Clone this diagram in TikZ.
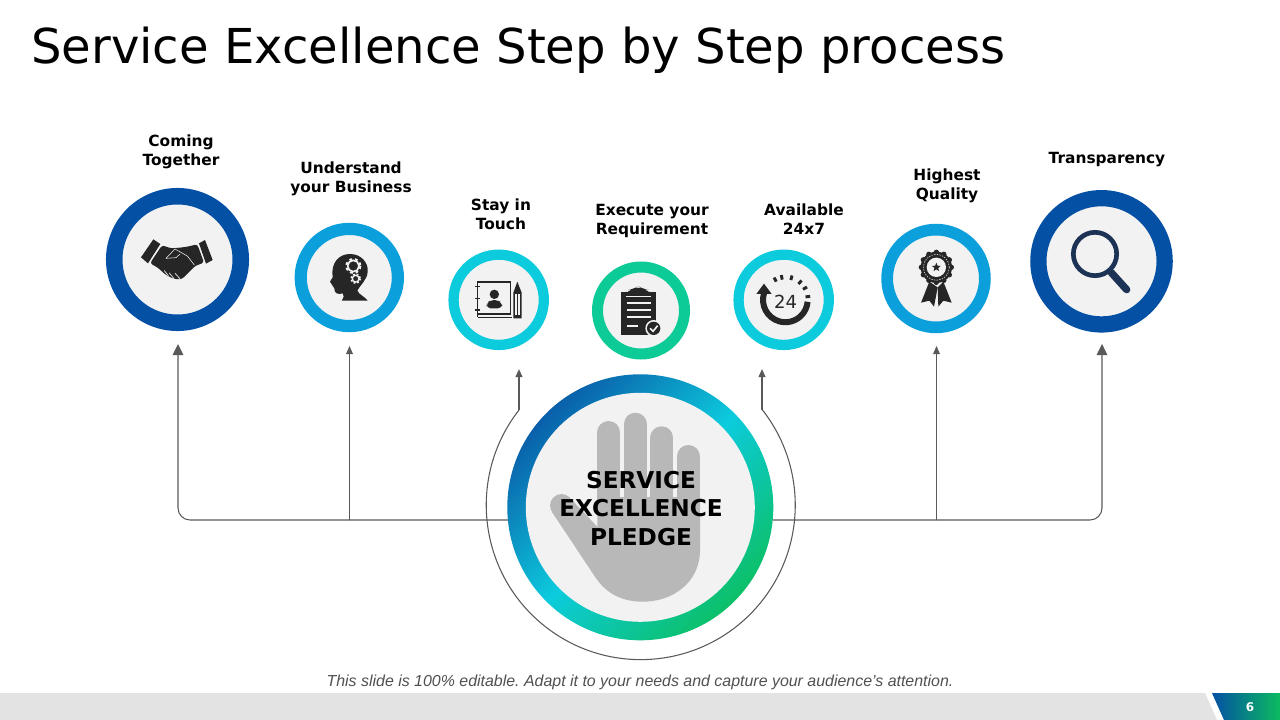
\documentclass[tikz,border=0pt]{standalone}
\usepackage{fontspec}
\setmainfont{DejaVu Sans}
\newfontfamily\footfont{Liberation Sans}
\usetikzlibrary{arrows.meta,calc}
\definecolor{navyring}{HTML}{0450A4}
\definecolor{skyring}{HTML}{0B9FDC}
\definecolor{cyanring}{HTML}{0CCBDD}
\definecolor{greenring}{HTML}{0CCB96}
\definecolor{hubblue}{HTML}{0A5FAA}
\definecolor{hubcyan}{HTML}{0CCBDD}
\definecolor{hubgreen}{HTML}{0CC068}
\definecolor{discgray}{HTML}{F2F2F2}
\definecolor{handgray}{HTML}{B8B8B8}
\definecolor{icondark}{HTML}{262626}
\definecolor{lensblue}{HTML}{1C3355}
\definecolor{linegray}{HTML}{595959}
\definecolor{bargray}{HTML}{E3E3E3}
\definecolor{footgreen}{HTML}{0CBB60}
\tikzset{
  ringnode/.style 2 args={circle,draw=#1,line width=#2,fill=discgray,inner sep=0},
  stepname/.style={font=\bfseries\fontsize{11.55}{14.25}\selectfont,align=center,inner sep=0},
  conn/.style={draw=linegray,line width=0.8pt},
  connthick/.style={draw=linegray,line width=1.3pt},
  bigtip/.style={-{Triangle[length=8.25pt,width=8pt]}},
  smalltip/.style={-{Triangle[length=6pt,width=5pt]}},
  finger/.style={handgray,line width=17.25pt,line cap=round},
  iconline/.style={discgray,line cap=round}
}
\begin{document}
\begin{tikzpicture}[x=0.75pt,y=-0.75pt]
  \useasboundingbox (0,0) rectangle (1280,720);

  \node[anchor=west,inner sep=0,font=\fontsize{36.07}{40}\selectfont] (title) at (31,50) {Service Excellence Step by Step process};

  % small rings
  \node[ringnode={navyring}{12.4pt},minimum size=94.9pt] (ring1) at (177.5,259.5) {};
  \node[ringnode={skyring}{9.15pt},minimum size=72.9pt] (ring2) at (349.3,277.5) {};
  \node[ringnode={cyanring}{7.7pt},minimum size=67.7pt] (ring3) at (498.7,299.8) {};
  \node[ringnode={greenring}{8.25pt},minimum size=65.25pt] (ring4) at (641,310.5) {};
  \node[ringnode={cyanring}{7.7pt},minimum size=67.7pt] (ring5) at (783.7,299.8) {};
  \node[ringnode={skyring}{8.8pt},minimum size=73.3pt] (ring6) at (936,278.5) {};
  \node[ringnode={navyring}{12.2pt},minimum size=94.7pt] (ring7) at (1101.5,261.3) {};

  \node[stepname,above of=ring1,node distance=81pt,xshift=2.6pt] (name1) {Coming\\Together};
  \node[stepname,above of=ring2,node distance=74.25pt,xshift=1.3pt] (name2) {Understand\\your Business};
  \node[stepname,above of=ring3,node distance=64pt,xshift=1.7pt] (name3) {Stay in\\Touch};
  \node[stepname,above of=ring4,node distance=67pt,xshift=8.25pt] (name4) {Execute your\\Requirement};
  \node[stepname,above of=ring5,node distance=60.5pt,xshift=15.2pt] (name5) {Available\\24x7};
  \node[stepname,above of=ring6,node distance=69.5pt,xshift=8.25pt] (name6) {Highest\\Quality};
  \node[stepname,above of=ring7,node distance=76pt,xshift=4.1pt] (name7) {Transparency};

  % centre
  \node[circle,inner sep=0,minimum size=199.5pt,top color=hubblue,bottom color=hubgreen,middle color=hubcyan,shading angle=45] (hub) at (640.3,507.3) {};
  \node[circle,inner sep=0,minimum size=171.75pt,fill=discgray] (hubdisc) at (hub) {};

  % connectors
  \coordinate (tip1) at (178,344);
  \coordinate (tip2) at (349.5,346);
  \coordinate (tip3) at (519,369);
  \coordinate (tip5) at (762,369);
  \coordinate (tip6) at (936.5,346);
  \coordinate (tip7) at (1102,344);
  \coordinate (arc3) at (519,410);
  \coordinate (arc5) at (762,410);
  \coordinate (hubleft) at (507.8,520);
  \coordinate (hubright) at (772.8,520);
  \coordinate (corner1) at (178,520);
  \coordinate (corner7) at (1102,520);
  \coordinate (joint2) at (349.5,520);
  \coordinate (joint6) at (936.5,520);

  \draw[conn,bigtip,rounded corners=9pt] (hubleft) -- (corner1) -- (tip1);
  \draw[conn,bigtip,rounded corners=9pt] (hubright) -- (corner7) -- (tip7);
  \draw[conn,smalltip] (joint2) -- (tip2);
  \draw[conn,smalltip] (joint6) -- (tip6);
  \draw[conn] (arc3) arc[start angle=218,end angle=-38,radius=154.5];
  \draw[connthick,smalltip] (arc3) -- (tip3);
  \draw[connthick,smalltip] (arc5) -- (tip5);

  % hand
  \draw[finger] (608.8,432.5) -- (608.8,510);
  \draw[finger] (635.2,424.2) -- (635.2,510);
  \draw[finger] (661.8,437.8) -- (661.8,510);
  \draw[finger] (688.3,456.5) -- (688.3,510);
  \fill[handgray] (561.5,505.5) circle[radius=11.5];
  \fill[handgray] (597.3,497) -- (700,497) -- (700,550) .. controls (700,583) and (672,601.7) .. (643,601.7) .. controls (620,601.7) and (605,592) .. (595,576.7) -- (551.9,511.9) -- (571,499) -- (597.3,526.7) -- cycle;
  \node[font=\bfseries\fontsize{17.4}{21.4}\selectfont,align=center,inner sep=0] (pledge) at (641,508.5) {SERVICE\\EXCELLENCE\\PLEDGE};

  % handshake
  \begin{scope}[shift={(100,180)},scale=1/3]
    \fill[icondark] (160,178) -- (181,192) -- (144,250) -- (123,232) -- cycle;
    \fill[icondark] (315,180) -- (338,240) -- (318,251) -- (297,190) -- cycle;
    \fill[icondark,rounded corners=2pt] (186,196) -- (214,205) -- (240,203) -- (262,200) -- (292,193) -- (312,248) -- (285,258) -- (245,298) -- (222,297) -- (198,285) -- (172,262) -- (150,250) -- cycle;
    \draw[iconline,line width=0.4pt] (198,235) -- (225,207) -- (262,228) -- (283,255);
    \draw[iconline,line width=0.4pt] (198,235) -- (228,233) -- (240,222);
    \draw[iconline,line width=0.5pt] (205,287) -- (193,272);
    \draw[iconline,line width=0.5pt] (222,296) -- (208,279);
    \draw[iconline,line width=0.5pt] (240,296) -- (225,280);
  \end{scope}

  % head with gears
  \begin{scope}[shift={(100,180)},scale=1/3]
    \fill[icondark] (725,362) .. controls (732,352) and (733,345) .. (728,340) .. controls (715,345) and (702,340) .. (703,325) -- (690,305) -- (698,292) .. controls (692,250) and (715,222) .. (750,222) .. controls (785,222) and (806,250) .. (803,275) .. controls (802,300) and (780,315) .. (772,332) .. controls (778,345) and (795,350) .. (803,362) -- cycle;
    \draw[discgray,line width=1.2pt] (760,258) circle[radius=17];
    \draw[discgray,line width=1.5pt,dash pattern=on 2.15pt off 2.15pt] (760,258) circle[radius=21];
    \draw[discgray,line width=1pt] (767,296) circle[radius=10];
    \draw[discgray,line width=1.2pt,dash pattern=on 1.4pt off 1.4pt] (767,296) circle[radius=14];
  \end{scope}

  % address book
  \begin{scope}[shift={(440,240)},scale=1/3]
    \draw[icondark,line width=1pt] (113,126) -- (211,126) -- (211,222) -- (113,222) -- cycle;
    \draw[icondark,line width=1pt] (113,232) -- (215,232);
    \draw[icondark,line width=1pt] (113,140) -- (113,232);
    \draw[icondark,line width=1pt] (106,140) -- (120,140) (106,175) -- (120,175) (106,210) -- (120,210);
    \fill[icondark] (163,163) circle[radius=14];
    \fill[icondark,rounded corners=3pt] (140,205) -- (140,188) -- (155,180) -- (171,180) -- (186,188) -- (186,205) -- cycle;
    \fill[icondark] (232,125) -- (245,158) -- (245,235) -- (220,235) -- (220,158) -- cycle;
    \fill[discgray] (225,162) rectangle (240,225);
    \fill[icondark] (230.5,162) rectangle (234.5,225);
  \end{scope}

  % clipboard
  \begin{scope}[shift={(440,240)},scale=1/3]
    \fill[icondark] (543,155) rectangle (648,285);
    \fill[icondark,rounded corners=4pt] (560,170) -- (560,150) -- (580,148) -- (595,138) -- (610,148) -- (630,150) -- (630,170) -- cycle;
    \draw[discgray,line width=0.5pt] (558,170) -- (632,170);
    \foreach \liney in {190,210,230}
      \draw[discgray,line width=1.5pt] (560,\liney) -- (632,\liney);
    \draw[discgray,line width=1.5pt] (560,258) -- (595,258);
    \fill[discgray] (641,265) circle[radius=25];
    \fill[icondark] (641,265) circle[radius=20];
    \draw[discgray,line width=1.2pt] (630,265) -- (639,274) -- (653,257);
  \end{scope}

  % clock arrow
  \begin{scope}[shift={(440,240)},scale=1/3]
    \draw[icondark,line width=4.5pt] (972,160) arc[start angle=197,end angle=5,radius=67];
    \fill[icondark] (949,162) -- (972,131) -- (995,162) -- cycle;
    \foreach \tickangle in {242,260,285,310,330,353}
      \draw[icondark,line width=2.2pt] ($(1037,178)+(\tickangle:60)$) -- ($(1037,178)+(\tickangle:74)$);
    \node[text=icondark,font=\fontsize{13.5}{15}\selectfont,inner sep=0] (hours) at (1037,186) {24};
  \end{scope}

  % rosette
  \begin{scope}[shift={(870,180)},scale=1/3]
    \fill[icondark] (178,305) -- (153,368) -- (178,362) -- (192,380) -- (203,322) -- cycle;
    \fill[icondark] (220,305) -- (245,368) -- (220,362) -- (205,380) -- (203,322) -- cycle;
    \fill[icondark] (199,262) circle[radius=47];
    \foreach \bumpangle in {0,30,...,330}
      \fill[icondark] ($(199,262)+(\bumpangle:45)$) circle[radius=8];
    \draw[discgray,line width=0.4pt,dash pattern=on 1pt off 1pt] (199,262) circle[radius=39];
    \fill[discgray] (199,262) circle[radius=29];
    \fill[icondark] (199,248) -- (202.5,257.1) -- (212.3,257.7) -- (204.7,263.9) -- (207.2,273.3) -- (199,268) -- (190.8,273.3) -- (193.3,263.9) -- (185.7,257.7) -- (195.5,257.1) -- cycle;
  \end{scope}

  % magnifier
  \begin{scope}[shift={(870,180)},scale=1/3]
    \draw[lensblue,line width=3.5pt] (675,222) circle[radius=65];
    \draw[lensblue,line width=5.5pt,line cap=round] (724,278) -- (770,329);
  \end{scope}

  % footer
  \node[font=\footfont\itshape\fontsize{11.95}{14}\selectfont,text=linegray!90!black,inner sep=0] (note) at (640,682.5) {\frenchspacing This slide is 100\% editable. Adapt it to your needs and capture your audience’s attention.};
  \fill[bargray] (0,693) -- (1205,693) -- (1217,720) -- (0,720) -- cycle;
  \shade[left color=navyring,right color=footgreen] (1212,693) -- (1280,693) -- (1280,720) -- (1224,720) -- cycle;
  \node[text=white,font=\bfseries\fontsize{9}{10}\selectfont,inner sep=0] (page) at (1250,707) {6};
\end{tikzpicture}
\end{document}
